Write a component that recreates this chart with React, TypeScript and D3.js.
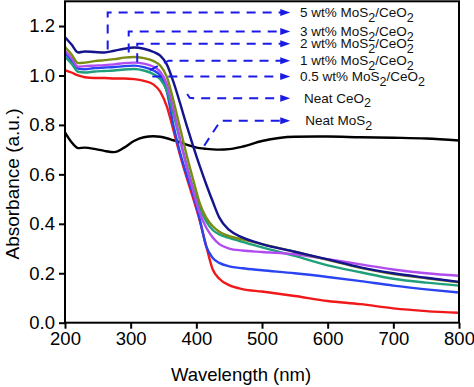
import React, { useEffect, useRef } from 'react';
import * as d3 from 'd3';

const WIDTH = 474;
const HEIGHT = 387;
const FONT = 'Liberation Sans, Arial, Helvetica, sans-serif';

// shared wavelength grid (nm)
const wavelengths = [
  200, 210, 220, 230, 245, 260, 275, 290, 305, 320, 335, 345, 355, 365, 375,
  385, 395, 405, 415, 425, 435, 450, 470, 500, 550, 600, 650, 700, 750, 800,
];

const neatMoS2 = [
  0.77, 0.73, 0.706, 0.708, 0.703, 0.695, 0.69, 0.708, 0.735, 0.75, 0.754, 0.752, 0.746, 0.738, 0.73,
  0.72, 0.712, 0.706, 0.703, 0.701, 0.7, 0.702, 0.712, 0.735, 0.752, 0.753, 0.75, 0.748, 0.745, 0.737,
];
const neatCeO2 = [
  1.022, 1.012, 1.0, 0.993, 0.99, 0.99, 0.988, 0.988, 0.985, 0.978, 0.963, 0.935, 0.875, 0.78, 0.68,
  0.59, 0.505, 0.415, 0.31, 0.215, 0.178, 0.152, 0.136, 0.126, 0.108, 0.088, 0.075, 0.058, 0.047, 0.04,
];
const blueSeries = [
  1.09, 1.06, 1.028, 1.025, 1.03, 1.032, 1.034, 1.038, 1.04, 1.034, 1.02, 1.0, 0.935, 0.8, 0.69,
  0.6, 0.52, 0.42, 0.31, 0.262, 0.242, 0.228, 0.22, 0.212, 0.2, 0.185, 0.168, 0.15, 0.135, 0.122,
];
const tealSeries = [
  1.075, 1.048, 1.015, 1.012, 1.016, 1.018, 1.02, 1.024, 1.026, 1.02, 1.005, 0.985, 0.94, 0.845, 0.74,
  0.64, 0.545, 0.465, 0.41, 0.375, 0.357, 0.343, 0.327, 0.305, 0.27, 0.232, 0.204, 0.178, 0.162, 0.15,
];
const wt2 = [
  1.1, 1.07, 1.035, 1.038, 1.04, 1.042, 1.045, 1.05, 1.052, 1.048, 1.035, 1.015, 0.965, 0.865, 0.745,
  0.635, 0.535, 0.445, 0.385, 0.345, 0.318, 0.3, 0.292, 0.286, 0.277, 0.257, 0.236, 0.215, 0.2, 0.19,
];
const wt3 = [
  1.115, 1.085, 1.05, 1.052, 1.058, 1.062, 1.066, 1.072, 1.075, 1.07, 1.058, 1.04, 0.995, 0.9, 0.79,
  0.68, 0.58, 0.485, 0.425, 0.39, 0.368, 0.35, 0.337, 0.318, 0.287, 0.254, 0.222, 0.197, 0.18, 0.163,
];
const wt5 = [
  1.155, 1.125, 1.093, 1.097, 1.095, 1.093, 1.1, 1.108, 1.113, 1.108, 1.095, 1.08, 1.045, 0.975, 0.89,
  0.8, 0.715, 0.635, 0.56, 0.49, 0.425, 0.375, 0.345, 0.318, 0.287, 0.256, 0.224, 0.2, 0.182, 0.165,
];

const seriesList = [
  { values: neatMoS2, color: '#000000' },
  { values: neatCeO2, color: '#f01818' },
  { values: blueSeries, color: '#2a44f2' },
  { values: tealSeries, color: '#1fa07a' },
  { values: wt2, color: '#b24cf0' },
  { values: wt3, color: '#7a8c12' },
  { values: wt5, color: '#14148c' },
];

const xTicks = [200, 300, 400, 500, 600, 700, 800];
const yTicks = [0, 0.2, 0.4, 0.6, 0.8, 1.0, 1.2];

// legend labels: [main, sub, main, sub]
const labelParts = [
  ['5 wt% MoS', '2', '/CeO', '2'],
  ['3 wt% MoS', '2', '/CeO', '2'],
  ['2 wt% MoS', '2', '/CeO', '2'],
  ['1 wt% MoS', '2', '/CeO', '2'],
  ['0.5 wt% MoS', '2', '/CeO', '2'],
  ['Neat CeO', '2'],
  ['Neat MoS', '2'],
];
const labelLevels = [1.255, 1.178, 1.128, 1.06, 0.996, 0.908, 0.817];
const labelX = [558, 558, 558, 558, 558, 564, 566];
// leader start points in data units (wavelength, absorbance)
const leaderStarts = [
  [[265, 1.105], [265, 1.255]],
  [[297, 1.093], [297, 1.178]],
  [[310, 1.053], [310, 1.128]],
  [[329, 1.022], [358, 1.06]],
  [[333, 0.996]],
  [[386, 0.925], [390, 0.91], [396, 0.908]],
  [[412, 0.716], [437, 0.817]],
];
const arrowTip = 543;

const App = () => {
  const svgRef = useRef(null);

  useEffect(() => {
    const svg = d3.select(svgRef.current);
    svg.selectAll('*').remove();

    const x = d3.scaleLinear().domain([200, 800]).range([65, 459]);
    const y = d3.scaleLinear().domain([0, 1.3]).range([322.7, 1.3]);

    const g = svg.append('g');

    // curves
    const line = d3
      .line()
      .x((d) => x(d[0]))
      .y((d) => y(d[1]))
      .curve(d3.curveMonotoneX);
    seriesList.forEach((s) => {
      const pts = wavelengths.map((w, i) => [w, s.values[i]]);
      g.append('path')
        .attr('d', line(pts))
        .attr('fill', 'none')
        .attr('stroke', s.color)
        .attr('stroke-width', 2.4)
        .attr('stroke-linejoin', 'round');
    });

    // annotation leaders
    const leader = d3
      .line()
      .x((d) => x(d[0]))
      .y((d) => y(d[1]));
    leaderStarts.forEach((pts, i) => {
      const lvl = labelLevels[i];
      const tipX = x(arrowTip);
      const endW = x.invert(tipX - 9);
      const all = [...pts, [endW, lvl]];
      g.append('path')
        .attr('d', leader(all))
        .attr('fill', 'none')
        .attr('stroke', '#1a1ae6')
        .attr('stroke-width', 2)
        .attr('stroke-dasharray', '9,7');
      const ty = y(lvl);
      g.append('path')
        .attr('d', `M${tipX},${ty}L${tipX - 10},${ty - 3.5}L${tipX - 10},${ty + 3.5}Z`)
        .attr('fill', '#1a1ae6');

      const t = g
        .append('text')
        .attr('x', x(labelX[i]))
        .attr('y', ty + 4.6)
        .attr('font-family', FONT)
        .attr('font-size', 13.5)
        .attr('fill', '#111');
      const parts = labelParts[i];
      parts.forEach((p, j) => {
        const isSub = j % 2 === 1;
        t.append('tspan')
          .attr('dy', isSub ? 4.5 : j === 0 ? 0 : -4.5)
          .attr('font-size', isSub ? 12.5 : 13.5)
          .text(p);
      });
    });

    // frame
    g.append('rect')
      .attr('x', x(200))
      .attr('y', y(1.3))
      .attr('width', x(800) - x(200))
      .attr('height', y(0) - y(1.3))
      .attr('fill', 'none')
      .attr('stroke', '#000')
      .attr('stroke-width', 2);

    const xAxis = g
      .append('g')
      .attr('transform', `translate(0,${y(0)})`)
      .call(d3.axisBottom(x).tickValues(xTicks).tickSize(6).tickPadding(3).tickFormat(d3.format('d')));
    const yAxis = g
      .append('g')
      .attr('transform', `translate(${x(200)},0)`)
      .call(d3.axisLeft(y).tickValues(yTicks).tickSize(6).tickPadding(4).tickFormat(d3.format('.1f')));
    [xAxis, yAxis].forEach((ax) => {
      ax.select('.domain').remove();
      ax.selectAll('line').attr('stroke', '#000').attr('stroke-width', 2);
      ax.selectAll('text')
        .attr('fill', '#000')
        .style('font-family', FONT)
        .style('font-size', '18.5px');
    });

    g.append('text')
      .attr('x', 241)
      .attr('y', 381)
      .attr('text-anchor', 'middle')
      .attr('font-family', FONT)
      .attr('font-size', 18.5)
      .text('Wavelength (nm)');

    g.append('text')
      .attr('transform', 'translate(18.5,184) rotate(-90)')
      .attr('text-anchor', 'middle')
      .attr('font-family', FONT)
      .attr('font-size', 19)
      .text('Absorbance (a.u.)');
  }, []);

  return (
    <svg
      ref={svgRef}
      width={WIDTH}
      height={HEIGHT}
      style={{ position: 'absolute', left: 0, top: 0, background: '#fff' }}
    />
  );
};

export default App;
